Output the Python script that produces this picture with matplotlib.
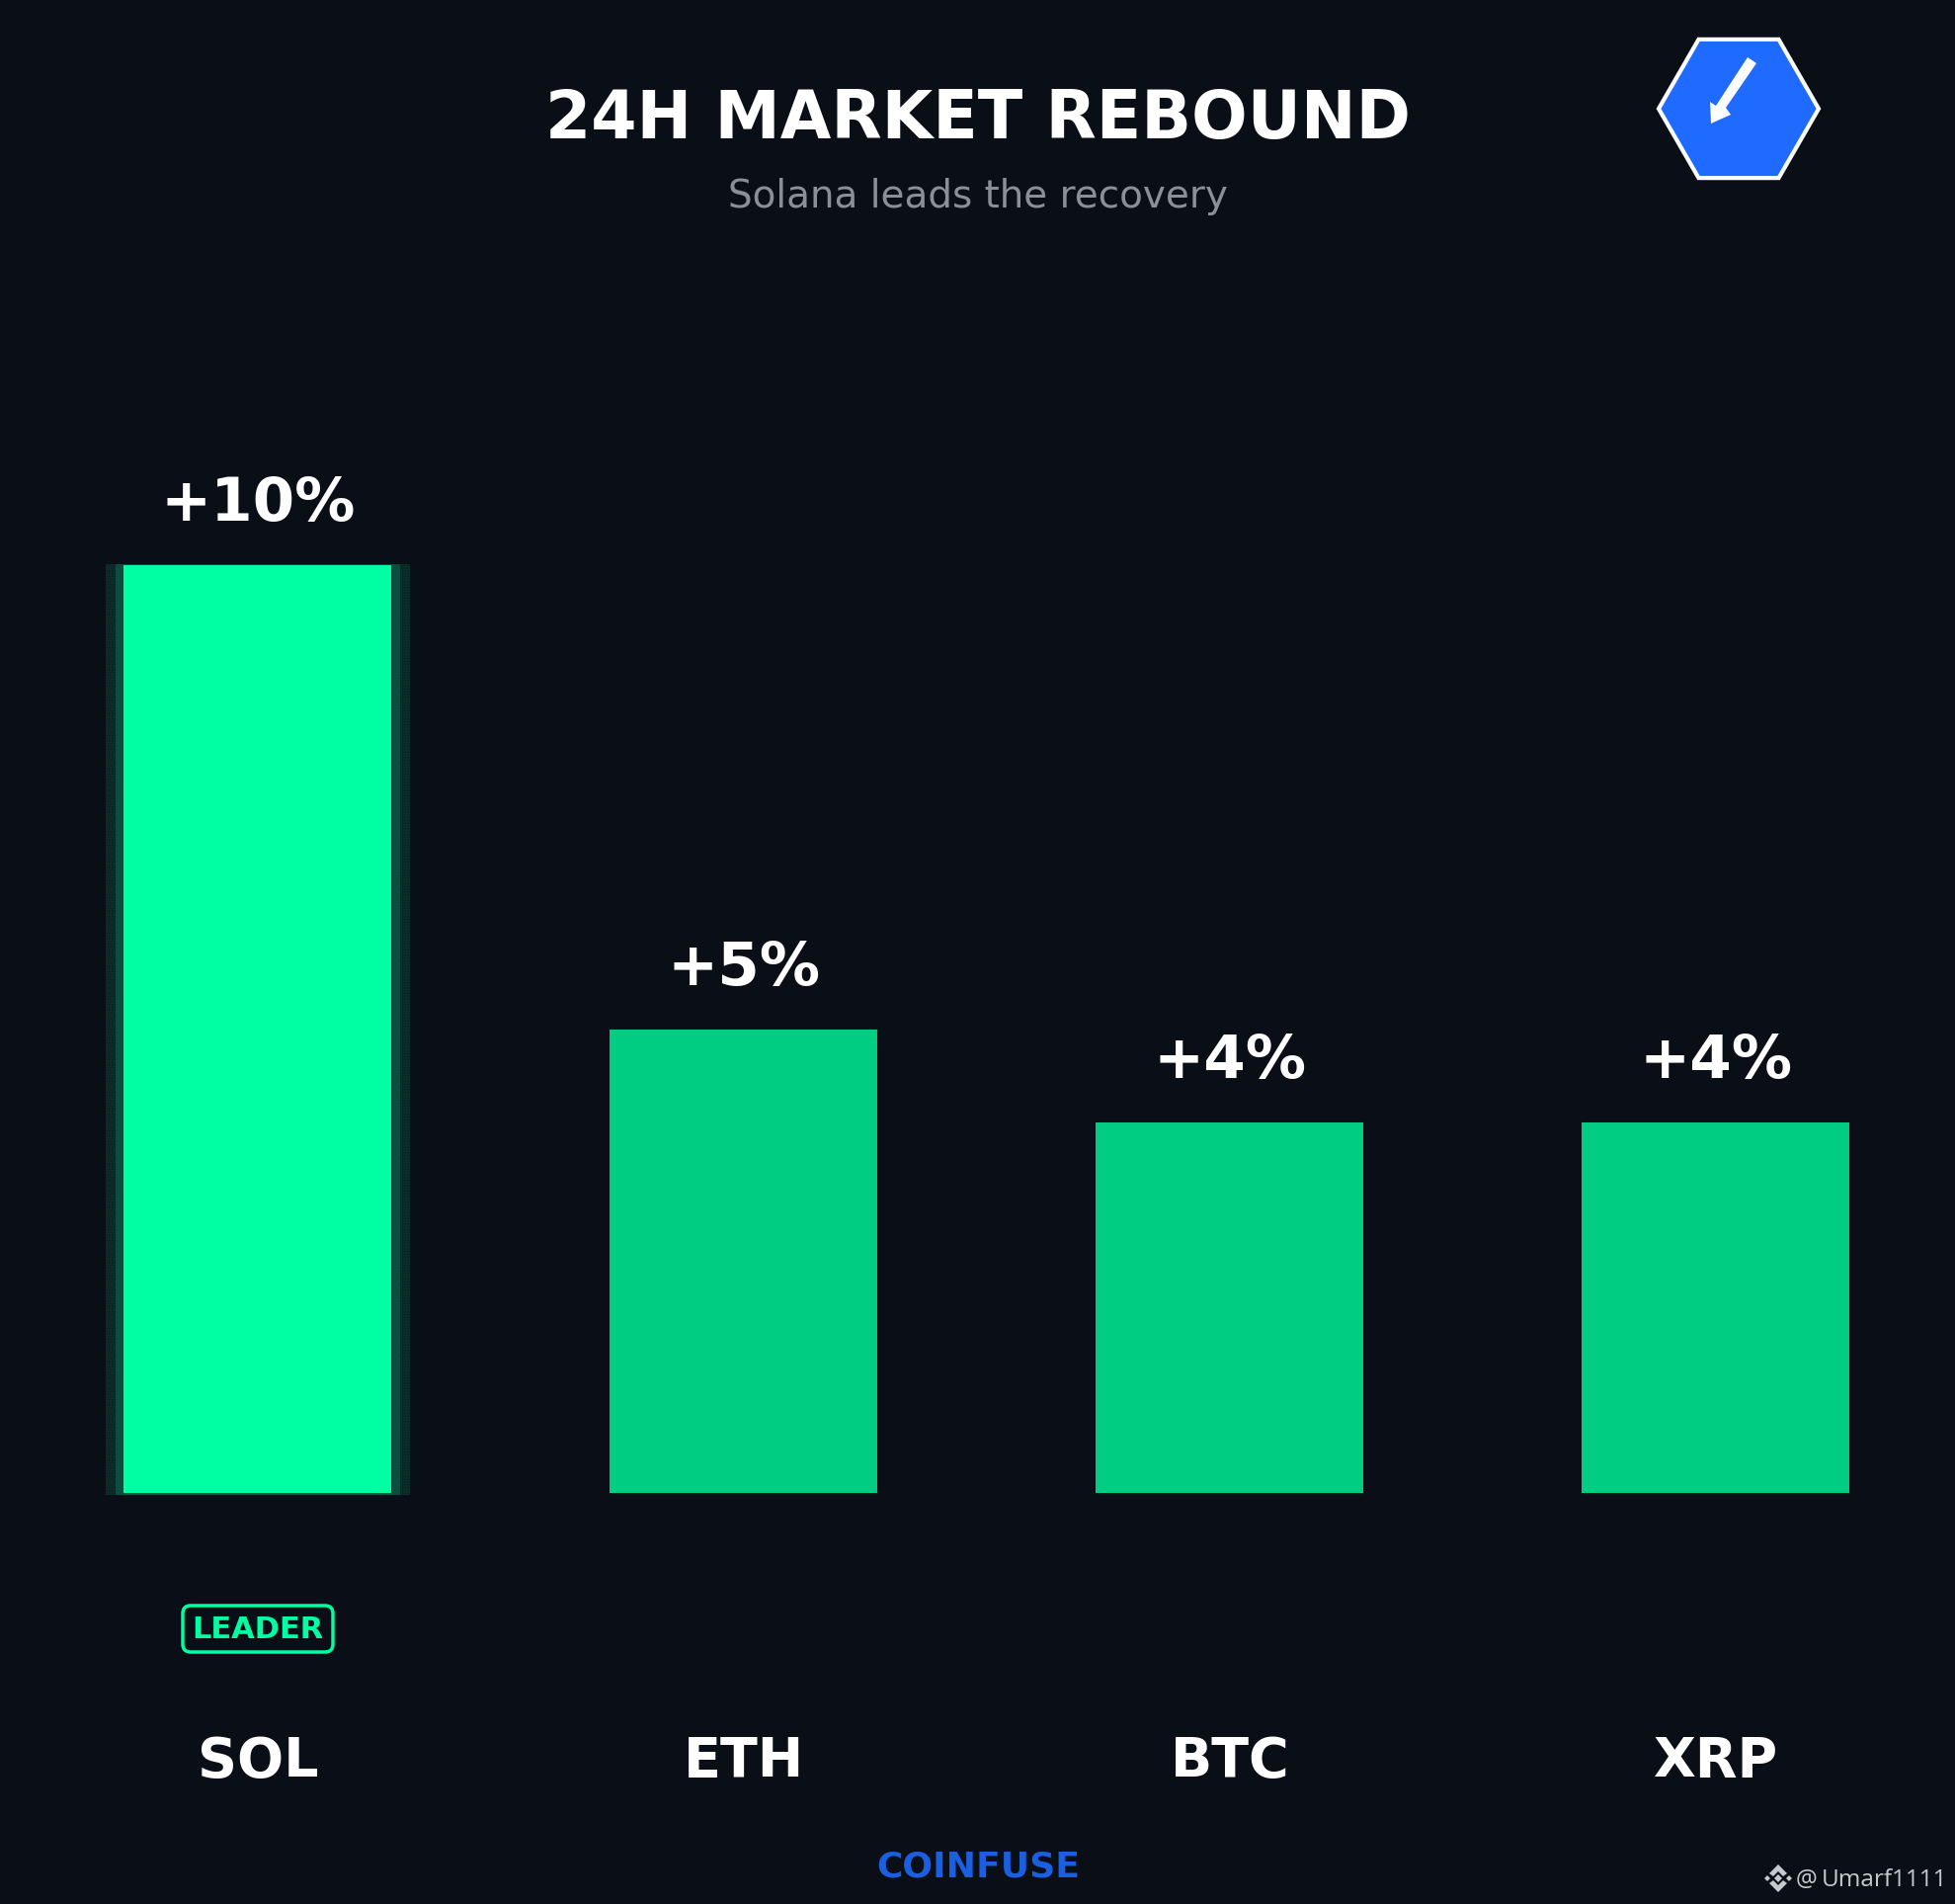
import matplotlib
matplotlib.use("Agg")
import matplotlib.pyplot as plt
from matplotlib.patches import FancyBboxPatch, Polygon, RegularPolygon

W, H = 1979, 1927
BG = "#0a0e16"

symbols = ["SOL", "ETH", "BTC", "XRP"]
values = [10, 5, 4, 4]
labels = ["+10%", "+5%", "+4%", "+4%"]
bar_colors = ["#00ffa3", "#00cc82", "#00cc82", "#00cc82"]

# bar layout in pixels, axes fill the whole figure
x0, step, base, unit = 260.5, 492, 1511, 93.87

plt.rcParams["hatch.linewidth"] = 0.6
fig = plt.figure(figsize=(W / 100, H / 100), dpi=100, facecolor=BG)
ax = fig.add_axes([0, 0, 1, 1])
ax.set_xlim(-x0 / step, (W - x0) / step)
ax.set_ylim(-(H - base) / unit, base / unit)
ax.axis("off")

# glow around the leader, slightly taller than the bar
lip = 2 / unit
top_lip = 1 / unit
ax.bar(0, values[0] + lip + top_lip, bottom=-lip, width=308 / step, facecolor="#0c2e2b",
       edgecolor="#0a1c20", hatch="......", linewidth=0, zorder=1)
ax.bar(0, values[0] + lip + top_lip, bottom=-lip, width=288 / step, color="#0b4d3f",
       linewidth=0, zorder=2)
ax.bar(range(4), values, width=271 / step, color=bar_colors, linewidth=0, zorder=3)


def px(x, y):
    return x / W, 1 - y / H


def ftext(x, y, s, **kw):
    fig.text(*px(x, y), s, ha=kw.pop("ha", "center"), va=kw.pop("va", "center"), **kw)


ftext(990, 121, "24H MARKET REBOUND", fontsize=48, fontweight="bold", color="white")
ftext(990, 199, "Solana leads the recovery", fontsize=28, color="#8a8f98")
ftext(990, 1889, "COINFUSE", fontsize=26, fontweight="bold", color="#1a5fe0")

for i, (sym, lab, val) in enumerate(zip(symbols, labels, values)):
    ax.annotate(lab, (i, val), xytext=(0.5, 23), textcoords="offset points", ha="center",
                va="bottom", fontsize=44, fontweight="bold", color="white")
    ftext(x0 + 0.5 + i * step, 1783, sym, fontsize=40, fontweight="bold", color="white")

# leader badge
fig.add_artist(FancyBboxPatch((185, H - 1672), 152, 47, boxstyle="round,pad=0,rounding_size=8",
                              transform=None, facecolor="none", edgecolor="#00ffa3",
                              linewidth=2.5, zorder=5))
ftext(261, 1649, "LEADER", fontsize=22, fontweight="bold", color="#00ffa3")

# logo
fig.add_artist(RegularPolygon((1760, H - 110), 6, radius=81, orientation=0.5236, transform=None,
                              facecolor="#1f6bff", edgecolor="white", linewidth=3))
arrow = [(1769, 58), (1778, 64), (1747, 109), (1752, 116), (1732, 125), (1731, 103), (1737, 107)]
fig.add_artist(Polygon([(x, H - y) for x, y in arrow], closed=True, transform=None,
                       facecolor="white", edgecolor="none"))

# watermark
wm = "#c6cad0"
icon = [
    [(1800, 1887), (1809, 1896), (1805, 1899), (1800, 1894), (1795, 1899), (1791, 1896)],
    [(1800, 1915), (1809, 1906), (1805, 1903), (1800, 1908), (1795, 1903), (1791, 1906)],
]
for shape in icon:
    fig.add_artist(Polygon([(x, H - y) for x, y in shape], closed=True, transform=None,
                           facecolor=wm, edgecolor="none"))
for cx, cy, r in [(1789, 1901, 3), (1811, 1901, 3), (1800, 1901, 4)]:
    fig.add_artist(RegularPolygon((cx, H - cy), 4, radius=r, transform=None,
                                  facecolor=wm, edgecolor="none"))
ftext(1818, 1903, "@", fontsize=17.5, color=wm, ha="left", family="Open Sans")
ftext(1844, 1903, "Umarf1111", fontsize=17.5, color=wm, ha="left", family="Open Sans")

fig.savefig("out.png", dpi=100, facecolor=BG)
